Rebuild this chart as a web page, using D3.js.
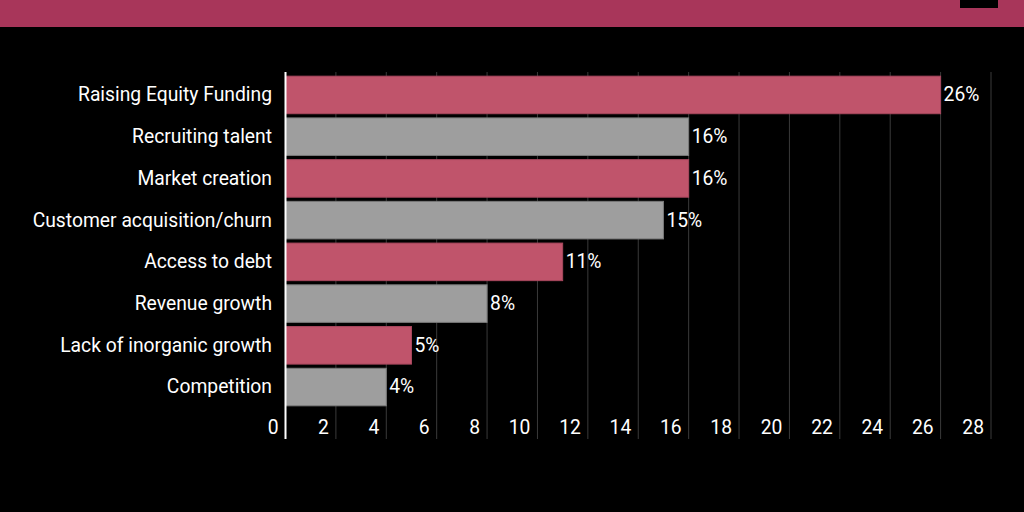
<!DOCTYPE html>
<html>
<head>
<meta charset="utf-8">
<script src="https://cdn.jsdelivr.net/npm/d3@7"></script>
<style>
  html, body { margin: 0; padding: 0; background: #000; }
  svg { display: block; font-family: Roboto, "Noto Sans", sans-serif; }
</style>
</head>
<body>
<div id="chart"></div>
<script>
const categories = ['Raising Equity Funding', 'Recruiting talent', 'Market creation',
  'Customer acquisition/churn', 'Access to debt', 'Revenue growth',
  'Lack of inorganic growth', 'Competition'];
const values = [26, 16, 16, 15, 11, 8, 5, 4];
const ticks = [0, 2, 4, 6, 8, 10, 12, 14, 16, 18, 20, 22, 24, 26, 28];

const W = 1024, H = 512;
const PINK = '#c0546b', GREY = '#9e9e9e';
const FS = 19.3;

const svg = d3.select('#chart').append('svg').attr('width', W).attr('height', H);
svg.append('rect').attr('width', W).attr('height', H).attr('fill', '#000');

// top band
svg.append('rect').attr('x', 0).attr('y', 0).attr('width', W).attr('height', 27).attr('fill', '#a8365a');
svg.append('rect').attr('x', 960).attr('y', 0).attr('width', 38).attr('height', 8).attr('fill', '#000');

const x = d3.scaleLinear().domain([0, 28]).range([285.5, 991]);
const y = d3.scaleBand().domain(categories).range([72, 410]).paddingInner(0.1).paddingOuter(0.1);

// grid
svg.append('g').selectAll('line').data(ticks.slice(1)).join('line')
  .attr('x1', d => x(d)).attr('x2', d => x(d)).attr('y1', 72).attr('y2', 439)
  .attr('stroke', '#3a3a3a').attr('stroke-width', 1);

// bars
svg.append('g').selectAll('rect').data(values).join('rect')
  .attr('x', x(0)).attr('y', (d, i) => y(categories[i]))
  .attr('width', d => x(d) - x(0)).attr('height', y.bandwidth())
  .attr('fill', (d, i) => i % 2 ? GREY : PINK)
  .attr('stroke', (d, i) => i % 2 ? '#7a7a7a' : '#a8485e').attr('stroke-width', 1);

// value labels
svg.append('g').selectAll('text').data(values).join('text')
  .attr('x', d => x(d) + 3).attr('y', (d, i) => y(categories[i]) + y.bandwidth() / 2)
  .attr('dy', '0.33em').attr('fill', '#fff').attr('font-size', FS).text(d => d + '%');

// category labels
svg.append('g').selectAll('text').data(categories).join('text')
  .attr('x', 272).attr('y', d => y(d) + y.bandwidth() / 2)
  .attr('dy', '0.33em').attr('text-anchor', 'end').attr('fill', '#fff')
  .attr('font-size', FS).text(d => d);

// zero axis
svg.append('line').attr('x1', x(0)).attr('x2', x(0)).attr('y1', 72).attr('y2', 439)
  .attr('stroke', '#fff').attr('stroke-width', 2);

// tick labels
svg.append('g').selectAll('text').data(ticks).join('text')
  .attr('x', d => x(d) - 7).attr('y', 434).attr('text-anchor', 'end')
  .attr('fill', '#fff').attr('font-size', FS).text(d => d);
</script>
</body>
</html>
